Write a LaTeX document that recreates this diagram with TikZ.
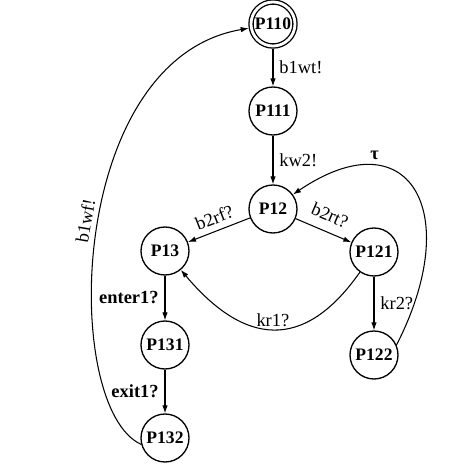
\documentclass[tikz,border=0pt]{standalone}
\usepackage{fontspec}
\setmainfont{Liberation Serif}
\usetikzlibrary{arrows.meta,positioning}

\begin{document}
\begin{tikzpicture}[
  font=\fontsize{10.5}{12}\selectfont,
  on grid,
  st/.style={draw, circle, line width=0.75pt, minimum size=0.96cm, inner sep=0pt, font=\fontsize{10}{11}\selectfont\bfseries},
  arr/.style={-{Latex[length=1.6mm,width=1.1mm]}, line width=0.6pt}
]
\useasboundingbox (-5.46,0.48) rectangle (4.02,-9.0);
\node[st, double, double distance=1.6pt, minimum size=0.88cm, outer sep=1.5pt] (p110) at (0,0) {P110};
\node[st, below=1.74cm of p110] (p111) {P111};
\node[st, below=1.96cm of p111] (p12) {P12};
\node[st, below left=0.84cm and 2.16cm of p12] (p13) {P13};
\node[st, below right=0.86cm and 2.02cm of p12] (p121) {P121};
\node[st, below=1.88cm of p13] (p131) {P131};
\node[st, below=1.86cm of p131] (p132) {P132};
\node[st, below=2.06cm of p121] (p122) {P122};
\draw[arr] (p110) -- node[right]{b1wt!} (p111);
\draw[arr] (p111) -- node[right]{kw2!} (p12);
\draw[arr] (p12) -- node[above, sloped]{b2rf?} (p13);
\draw[arr] (p12) -- node[above=2pt, sloped]{b2rt?} (p121);
\draw[arr] (p13) -- node[left]{\bfseries enter1?} (p131);
\draw[arr] (p131) -- node[left]{\bfseries exit1?} (p132);
\draw[arr] (p121) -- node[right]{kr2?} (p122);
\draw[arr] (p121) to[out=-125, in=-50, looseness=1.4] node[above, inner sep=1pt]{kr1?} (p13);
\draw[arr] (p122.24) .. controls +(1.38,2.7) and +(2.3,1.56) .. node[pos=0.72, above]{\bfseries τ} (p12.36);
\draw[arr] (p132.195) .. controls +(-1.6,0.72) and +(-3.66,-0.62) .. node[pos=0.52, above, sloped]{b1wf!} (p110.190);
\end{tikzpicture}
\end{document}
